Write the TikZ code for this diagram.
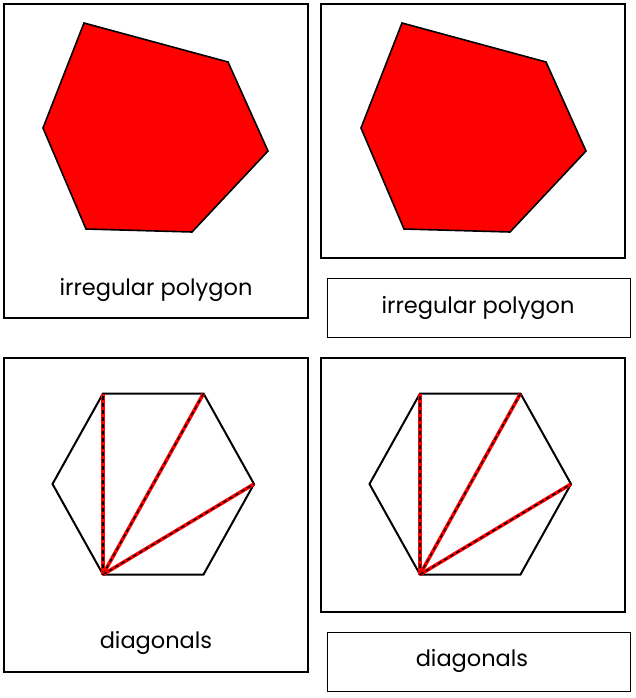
\documentclass[tikz,border=0pt]{standalone}
\usepackage{fontspec}
\setmainfont{Poppins}
\usepackage{tikz}
\usetikzlibrary{positioning}
\definecolor{polyred}{RGB}{255,0,0}
\tikzstyle{card}   = [draw, line width=1.4pt, inner sep=0pt]
\tikzstyle{word}   = [font=\fontsize{22.5}{26}\selectfont, inner sep=0pt]
\tikzstyle{poly}   = [draw, line width=1.6pt, fill=polyred, line join=miter]
\tikzstyle{hexa}   = [draw, line width=2pt, line join=miter]
\tikzstyle{diagred} = [draw=polyred, line width=3.6pt]
\tikzstyle{diagdash} = [draw, line width=1.3pt, dash pattern=on 4pt off 3pt]

\begin{document}
\begin{tikzpicture}[x=1pt, y=-1pt]
  \useasboundingbox (0,0) rectangle (635,698);

  %put the cards
  \node[card, minimum width=304pt, minimum height=314pt] (c1) at (156,161) {};
  \node[card, minimum width=304pt, minimum height=254pt] (c2) at (473,131) {};
  \node[card, minimum width=304pt, minimum height=314pt] (c3) at (156,515) {};
  \node[card, minimum width=304pt, minimum height=254pt] (c4) at (473,485) {};
  \node[card, minimum width=303pt, minimum height=59pt] (l2) at (479,308) {};
  \node[card, minimum width=303pt, minimum height=59pt] (l4) at (479,662) {};

  %put the labels
  \node[word] (t1) at (156,290) {irregular polygon};
  \node[word] (t2) at (478,308) {irregular polygon};
  \node[word] (t3) at (156,643) {diagonals};
  \node[word] (t4) at (472,661) {diagonals};

  %red polygons
  \foreach \dx/\nm in {0/a,318/b}{
    \begin{scope}[xshift=\dx pt]
      \coordinate (\nm1) at (84,23);
      \coordinate (\nm2) at (228,62);
      \coordinate (\nm3) at (268,151);
      \coordinate (\nm4) at (192,232);
      \coordinate (\nm5) at (86,229);
      \coordinate (\nm6) at (43,128);
      \draw[poly] (\nm1) -- (\nm2) -- (\nm3) -- (\nm4) -- (\nm5) -- (\nm6) -- cycle;
    \end{scope}
  }

  %hexagons with diagonals
  \foreach \dx/\nm in {0/h,317/k}{
    \begin{scope}[xshift=\dx pt]
      \coordinate (\nm1) at (103,393.5);
      \coordinate (\nm2) at (203.5,393.5);
      \coordinate (\nm3) at (254,484);
      \coordinate (\nm4) at (203.5,574.5);
      \coordinate (\nm5) at (103,574.5);
      \coordinate (\nm6) at (52.5,484);
      \draw[hexa] (\nm1) -- (\nm2) -- (\nm3) -- (\nm4) -- (\nm5) -- (\nm6) -- cycle;
      \foreach \v in {1,2,3}{
        \draw[diagred] (\nm5) -- (\nm\v);
        \draw[diagdash] (\nm5) -- (\nm\v);
      }
    \end{scope}
  }
\end{tikzpicture}
\end{document}
